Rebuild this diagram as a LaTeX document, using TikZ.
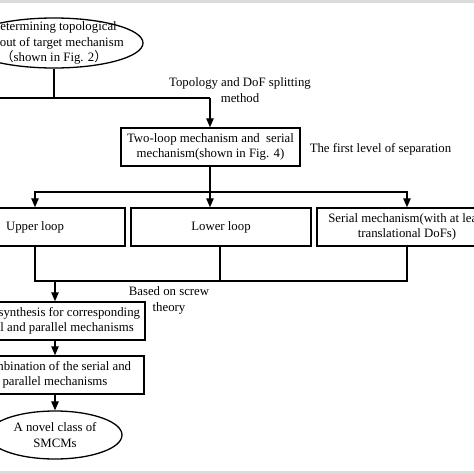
\documentclass[tikz,border=0pt]{standalone}
\usepackage{fontspec}
\setmainfont{Liberation Serif}
\newfontfamily\cjk{Noto Sans CJK SC}
\usetikzlibrary{shapes.geometric,arrows.meta}
\begin{document}
\begin{tikzpicture}[x=1pt,y=-1pt,
  every node/.style={font=\fontsize{12.8}{15.5}\selectfont, inner sep=0pt, align=center},
  box/.style={draw, line width=1.5pt, minimum height=38pt},
  oval/.style={draw, ellipse, line width=1.3pt},
  link/.style={line width=1.2pt},
  arr/.style={link, -{Triangle[width=7.5pt,length=9pt]}},
  lbl/.style={}]
\clip (0,0) rectangle (474,474);
\fill[white] (0,0) rectangle (474,474);
\fill[gray!28] (0,0) rectangle (474,3);
\fill[gray!28] (0,471) rectangle (474,474);

\node[oval, minimum width=178pt, minimum height=50pt] (e1) at (54,43) {};
\node (e1text) at (e1.center)
  {Determining topological\\layout of target mechanism\\{\cjk （}shown in Fig. 2{\cjk ）}};
\node[box, minimum width=179pt] (b2) at (210.5,147)
  {Two-loop mechanism and \ serial\\mechanism(shown in Fig. 4)};
\node[box, minimum width=180pt] (upper) at (35,227) {Upper loop};
\node[box, minimum width=180pt] (lower) at (221,227) {Lower loop};
\node[box, minimum width=180pt] (serial) at (407,227)
  {Serial mechanism(with at least\\translational DoFs)};
\node[box, minimum width=180pt] (b3) at (55,321)
  {Type synthesis for corresponding\\serial and parallel mechanisms};
\node[box, minimum width=178pt] (b4) at (55,375)
  {Combination of the serial and\\parallel mechanisms};
\node[oval, minimum width=134pt, minimum height=48pt] (e2) at (55,435) {};
\node (e2text) at (e2.center) {A novel class of\\SMCMs};

\node[lbl] (t1) at (240,90) {Topology and DoF splitting\\method};
\node[lbl] (t2) at (380.5,149) {The first level of separation};
\node[lbl] (t3) at (169,300.5) {Based on screw\\theory};

\coordinate (split) at (210,98);
\coordinate (leftend) at (-40,98);
\coordinate (bar) at (210,192);
\coordinate (merge) at (55,281);

\draw[link] (e1.south) -- (e1.south |- split);
\draw[link] (leftend) -- (split);
\draw[arr] (split) -- (b2.north -| split);
\draw[link] (b2.south -| bar) -- (bar);
\draw[arr] (bar) -| (upper.north);
\draw[arr] (bar) -| (serial.north);
\draw[arr] (bar) -- (bar |- lower.north);
\draw[link] (upper.south) |- (merge) -| (serial.south);
\draw[link] ([xshift=-1pt]lower.south) -- ([xshift=-1pt]lower.south |- merge);
\draw[arr] (merge) -- (b3.north);
\draw[arr] (b3.south) -- (b4.north);
\draw[arr] (b4.south) -- (e2.north);
\end{tikzpicture}
\end{document}
